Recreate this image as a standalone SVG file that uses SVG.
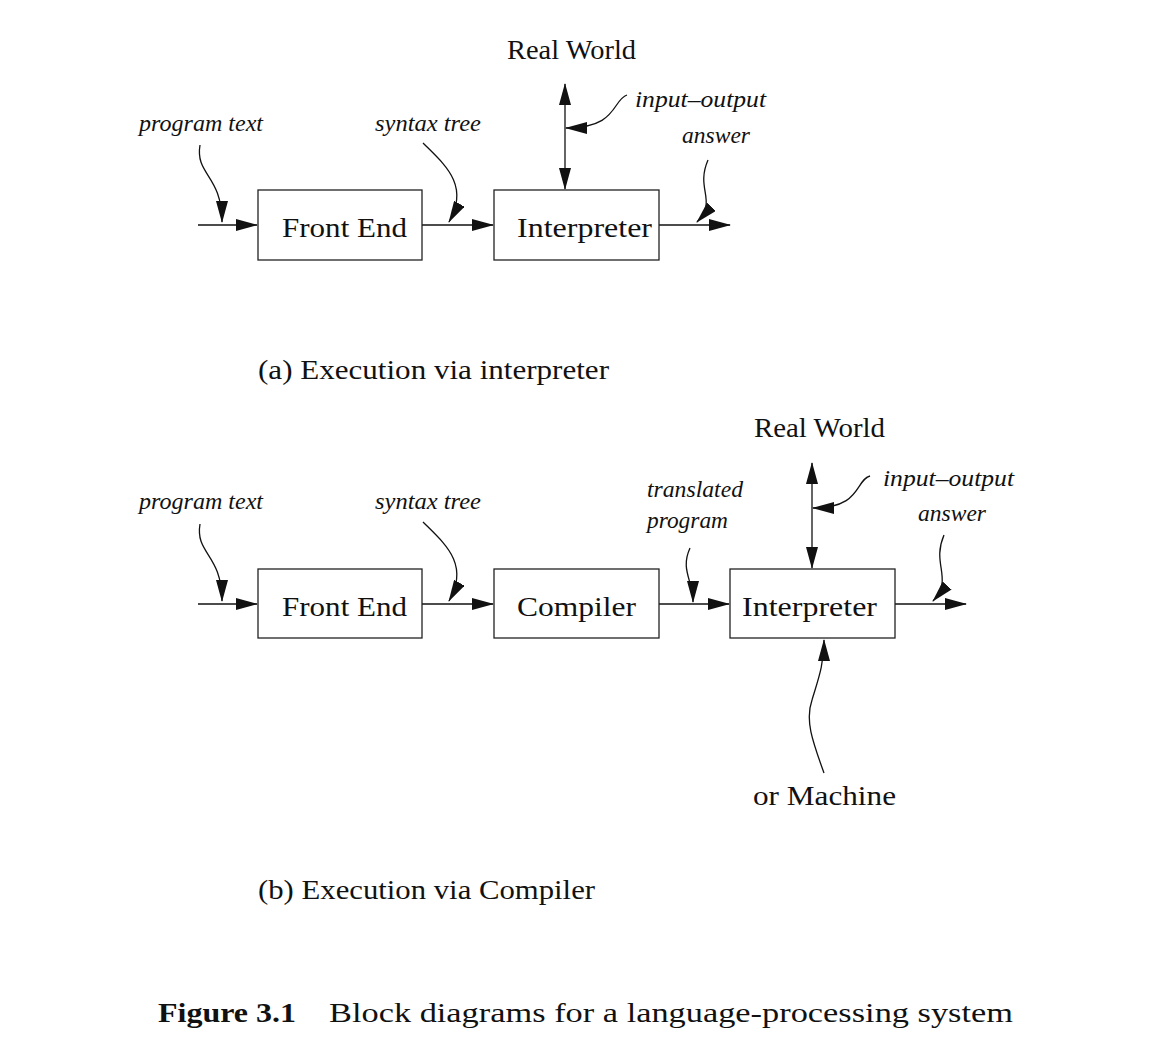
<svg xmlns="http://www.w3.org/2000/svg" width="1172" height="1052" viewBox="0 0 1172 1052">
<style>
text{font-family:"Liberation Serif","DejaVu Serif",serif;fill:#111}
.b{font-size:28px}
.i{font-size:23px;font-style:italic}
.box{fill:#fff;stroke:#222;stroke-width:1.3}
.l{fill:none;stroke:#111;stroke-width:1.3}
</style>
<defs>
<marker id="a" markerUnits="userSpaceOnUse" markerWidth="22" markerHeight="12" refX="21" refY="6" orient="auto-start-reverse"><path d="M0,0 L22,6 L0,12 Z" fill="#111"/></marker>
</defs>
<g id="connectors">
<line class="l" x1="198" y1="225" x2="257" y2="225" marker-end="url(#a)"/>
<line class="l" x1="422" y1="225" x2="493" y2="225" marker-end="url(#a)"/>
<line class="l" x1="659" y1="225" x2="730" y2="225" marker-end="url(#a)"/>
<line class="l" x1="565" y1="84" x2="565" y2="189" marker-start="url(#a)" marker-end="url(#a)"/>
<path class="l" d="M200,145 C195,175 222,175 222,222" marker-end="url(#a)"/>
<path class="l" d="M423,143 C445,165 470,185 449,222" marker-end="url(#a)"/>
<path class="l" d="M708,160 C695,190 718,200 697,222" marker-end="url(#a)"/>
<path class="l" d="M627,95 C612,100 618,128 566,128" marker-end="url(#a)"/>

<line class="l" x1="198" y1="604" x2="257" y2="604" marker-end="url(#a)"/>
<line class="l" x1="422" y1="604" x2="493" y2="604" marker-end="url(#a)"/>
<line class="l" x1="659" y1="604" x2="729" y2="604" marker-end="url(#a)"/>
<line class="l" x1="895" y1="604" x2="966" y2="604" marker-end="url(#a)"/>
<line class="l" x1="812" y1="463" x2="812" y2="568" marker-start="url(#a)" marker-end="url(#a)"/>
<path class="l" d="M200,524 C195,554 222,554 222,601" marker-end="url(#a)"/>
<path class="l" d="M423,522 C445,544 470,564 449,601" marker-end="url(#a)"/>
<path class="l" d="M690,548 C680,570 693,580 693,602" marker-end="url(#a)"/>
<path class="l" d="M944,535 C931,565 954,578 933,601" marker-end="url(#a)"/>
<path class="l" d="M870,476 C855,480 862,508 813,508" marker-end="url(#a)"/>
<path class="l" d="M824,773 C812,740 805,720 812,700 C818,680 824,665 824,640" marker-end="url(#a)"/>
</g>
<g id="fe1"><rect class="box" x="258" y="190" width="164" height="70"/><text class="b" x="282" y="237" textLength="125" lengthAdjust="spacingAndGlyphs">Front End</text></g>
<g id="int1"><rect class="box" x="494" y="190" width="165" height="70"/><text class="b" x="517" y="237" textLength="135" lengthAdjust="spacingAndGlyphs">Interpreter</text></g>
<g id="fe2"><rect class="box" x="258" y="569" width="164" height="69"/><text class="b" x="282" y="616" textLength="125" lengthAdjust="spacingAndGlyphs">Front End</text></g>
<g id="comp"><rect class="box" x="494" y="569" width="165" height="69"/><text class="b" x="517" y="616" textLength="119" lengthAdjust="spacingAndGlyphs">Compiler</text></g>
<g id="int2"><rect class="box" x="730" y="569" width="165" height="69"/><text class="b" x="742" y="616" textLength="135" lengthAdjust="spacingAndGlyphs">Interpreter</text></g>
<g id="labels">
<text class="b" x="507" y="59" textLength="129" lengthAdjust="spacingAndGlyphs">Real World</text>
<text class="i" x="139" y="131" textLength="124" lengthAdjust="spacingAndGlyphs">program text</text>
<text class="i" x="375" y="131" textLength="106" lengthAdjust="spacingAndGlyphs">syntax tree</text>
<text class="i" x="635" y="107" textLength="131" lengthAdjust="spacingAndGlyphs">input–output</text>
<text class="i" x="682" y="143" textLength="68" lengthAdjust="spacingAndGlyphs">answer</text>
<text class="b" x="258" y="379" textLength="351" lengthAdjust="spacingAndGlyphs">(a) Execution via interpreter</text>
<text class="b" x="754" y="437" textLength="131" lengthAdjust="spacingAndGlyphs">Real World</text>
<text class="i" x="139" y="509" textLength="124" lengthAdjust="spacingAndGlyphs">program text</text>
<text class="i" x="375" y="509" textLength="106" lengthAdjust="spacingAndGlyphs">syntax tree</text>
<text class="i" x="883" y="486" textLength="131" lengthAdjust="spacingAndGlyphs">input–output</text>
<text class="i" x="918" y="521" textLength="68" lengthAdjust="spacingAndGlyphs">answer</text>
<text class="i" x="647" y="497" textLength="96" lengthAdjust="spacingAndGlyphs">translated</text>
<text class="i" x="647" y="528" textLength="81" lengthAdjust="spacingAndGlyphs">program</text>
<text class="b" x="753" y="805" textLength="143" lengthAdjust="spacingAndGlyphs">or Machine</text>
<text class="b" x="258" y="899" textLength="337" lengthAdjust="spacingAndGlyphs">(b) Execution via Compiler</text>
<text class="b" x="158" y="1022" font-size="30" font-weight="bold" textLength="138" lengthAdjust="spacingAndGlyphs">Figure 3.1</text>
<text class="b" x="329" y="1022" font-size="30" textLength="684" lengthAdjust="spacingAndGlyphs">Block diagrams for a language-processing system</text>
</g>
</svg>
